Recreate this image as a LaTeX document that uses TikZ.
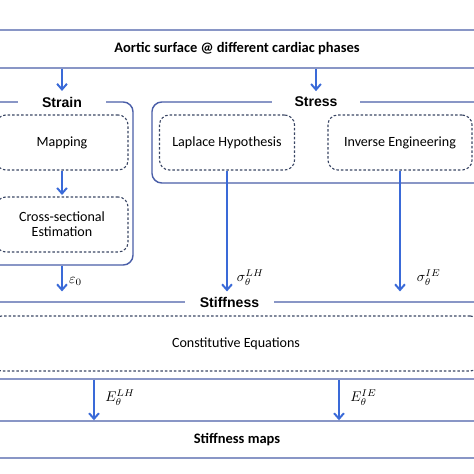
\documentclass[tikz,border=0pt]{standalone}
\usepackage{fontspec}
\setmainfont{Carlito}
\newfontfamily\headfont{Liberation Sans}
\usetikzlibrary{arrows.meta}

\definecolor{frameblue}{HTML}{4A5EA8}
\definecolor{arrowblue}{HTML}{3A6AD8}
\definecolor{dashslate}{HTML}{3A4664}

\tikzset{
    frame/.style={draw=frameblue, line width=1pt, rounded corners=7pt, inner sep=0pt},
    subbox/.style={draw=dashslate, line width=0.8pt, dash pattern=on 1.8pt off 1.4pt,
        rounded corners=7pt, inner sep=0pt, align=center,
        font=\fontsize{10}{10.8}\selectfont},
    grouplabel/.style={fill=white, minimum width=2.2cm, inner sep=1pt,
        font=\headfont\bfseries\fontsize{10}{12}\selectfont},
    mainlabel/.style={font=\bfseries\fontsize{10.3}{12}\selectfont},
    flow/.style={draw=arrowblue, line width=1.4pt, -{Straight Barb[length=4pt,width=7pt]}},
}

\begin{document}
\begin{tikzpicture}[x=0.025cm, y=-0.025cm]

    \useasboundingbox (0,0) rectangle (474,474);
    \clip (0,0) rectangle (474,474);

    % Input and output
    \node[frame, minimum width=12.5cm, minimum height=0.95cm, mainlabel] (surface) at (237,49)
        {Aortic surface @ different cardiac phases};
    \node[frame, minimum width=12.5cm, minimum height=0.925cm, mainlabel] (maps) at (237,439.5)
        {Stiffness maps};

    % Strain group
    \node[frame, minimum width=3.575cm, minimum height=4.075cm] (strainbox) at (61.5,183.5) {};
    \node[grouplabel] (strainlbl) at (62,102) {Strain};
    \node[subbox, minimum width=3.3cm, minimum height=1.375cm] (mapping) at (62,142.5) {Mapping};
    \node[subbox, minimum width=3.3cm, minimum height=1.375cm] (cross) at (62,224.5)
        {Cross-sectional\\Estimation};

    % Stress group
    \node[frame, minimum width=8.45cm, minimum height=2.025cm] (stressbox) at (321,142.5) {};
    \node[grouplabel] (stresslbl) at (316,102) {Stress};
    \node[subbox, minimum width=3.375cm, minimum height=1.375cm] (laplace) at (227,142.5)
        {Laplace Hypothesis};
    \node[subbox, minimum width=3.6cm, minimum height=1.375cm] (inverse) at (400,142.5)
        {Inverse Engineering};

    % Stiffness group
    \node[frame, minimum width=12.35cm, minimum height=1.925cm] (stiffbox) at (237,340.5) {};
    \node[grouplabel] (stifflbl) at (229.5,302) {Stiffness};
    \node[subbox, minimum width=12.2cm, minimum height=1.375cm] (consti) at (236,343.5)
        {Constitutive Equations};

    % Arrows
    \draw[flow, shorten >=3pt] (surface.south -| strainlbl) -- (strainlbl.north);
    \draw[flow, shorten >=3pt] (surface.south -| stresslbl) -- (stresslbl.north);
    \draw[flow, shorten >=1pt] (mapping.south) -- (cross.north);
    \draw[flow, shorten >=7pt] (strainbox.south -| mapping) -- (stiffbox.north -| mapping)
        node[pos=0.45, anchor=west, xshift=1pt] {$\varepsilon_0$};
    \draw[flow, shorten >=7pt] (laplace.south) -- (stiffbox.north -| laplace)
        node[pos=0.82, anchor=west, xshift=3pt] {$\sigma_\theta^{LH}$};
    \draw[flow, shorten >=7pt] (inverse.south) -- (stiffbox.north -| inverse)
        node[pos=0.82, anchor=west, xshift=8pt] {$\sigma_\theta^{IE}$};

    \coordinate (lhpos) at (94,0);
    \coordinate (iepos) at (339,0);
    \foreach \pos/\tag in {lhpos/LH, iepos/IE}
        \draw[flow] (stiffbox.south -| \pos) -- (maps.north -| \pos)
            node[pos=0.45, anchor=west, xshift=4pt] {$E_\theta^{\tag}$};

\end{tikzpicture}
\end{document}
